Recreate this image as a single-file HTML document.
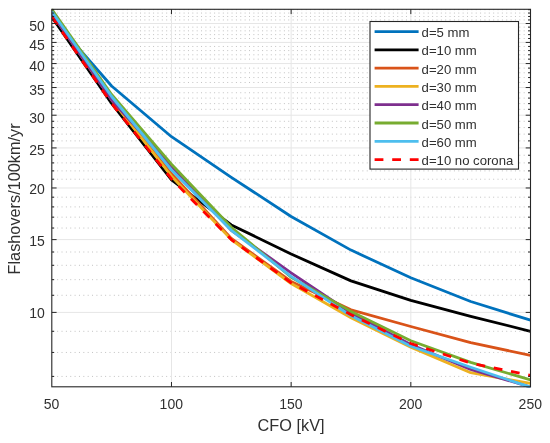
<!DOCTYPE html>
<html><head><meta charset="utf-8"><title>Flashovers vs CFO</title>
<style>html,body{margin:0;padding:0;background:#fff}svg{display:block}</style></head>
<body>
<svg width="550" height="443" viewBox="0 0 550 443" font-family="'Liberation Sans', Arial, sans-serif" fill="#303030">
<rect width="550" height="443" fill="#fff"/>
<defs><clipPath id="ax"><rect x="51.8" y="7.300000000000001" width="480.2" height="380.5"/></clipPath></defs>
<path d="M52.8 376.42H530.5M52.8 352.45H530.5M52.8 331.31H530.5M52.8 295.29H530.5M52.8 279.67H530.5M52.8 265.31H530.5M52.8 252.01H530.5M52.8 228.04H530.5M52.8 217.16H530.5M52.8 206.90H530.5M52.8 197.19H530.5M52.8 179.23H530.5M52.8 170.88H530.5M52.8 162.90H530.5M52.8 155.26H530.5M52.8 140.89H530.5M52.8 134.12H530.5M52.8 127.59H530.5M52.8 121.29H530.5M52.8 109.32H530.5M52.8 103.62H530.5M52.8 98.10H530.5M52.8 92.74H530.5M52.8 82.48H530.5M52.8 77.56H530.5M52.8 72.78H530.5M52.8 68.11H530.5M52.8 59.14H530.5M52.8 54.81H530.5M52.8 50.59H530.5M52.8 46.46H530.5M52.8 38.48H530.5M52.8 34.62H530.5M52.8 30.84H530.5M52.8 27.14H530.5M52.8 19.96H530.5M52.8 16.48H530.5M52.8 13.06H530.5M52.8 9.70H530.5" stroke="#c2c2c2" stroke-width="1" stroke-dasharray="1 3.36" fill="none"/>
<path d="M51.8 312.40H530.5M51.8 239.62H530.5M51.8 187.98H530.5M51.8 147.93H530.5M51.8 115.21H530.5M51.8 87.54H530.5M51.8 63.57H530.5M51.8 42.43H530.5M51.8 23.52H530.5M171.47 9.3V386.8M291.15 9.3V386.8M410.82 9.3V386.8" stroke="#e6e6e6" stroke-width="1" fill="none"/>
<g clip-path="url(#ax)" fill="none" stroke-width="2.8" stroke-linejoin="round">
<polyline points="51.8,17.5 111.6,86.0 171.5,136.7 231.3,177.3 291.1,216.5 351.0,250.1 410.8,277.8 470.7,301.5 530.5,320.2" stroke="#0072BD"/>
<polyline points="51.8,16.9 111.6,103.4 171.5,180.0 231.3,224.9 291.1,254.0 351.0,280.9 410.8,300.4 470.7,316.3 530.5,331.3" stroke="#000000"/>
<polyline points="51.8,13.2 111.6,99.8 171.5,173.6 231.3,238.5 291.1,281.5 351.0,309.8 410.8,326.5 470.7,342.7 530.5,355.3" stroke="#D95319"/>
<polyline points="51.8,13.2 111.6,99.8 171.5,176.2 231.3,239.6 291.1,283.5 351.0,317.8 410.8,347.3 470.7,372.7 530.5,383.4" stroke="#EDB120"/>
<polyline points="51.8,13.5 111.6,100.0 171.5,166.5 231.3,230.3 291.1,272.8 351.0,313.0 410.8,344.5 470.7,369.5 530.5,387.0" stroke="#7E2F8E"/>
<polyline points="51.8,9.3 111.6,94.5 171.5,164.2 231.3,227.2 291.1,277.3 351.0,311.4 410.8,340.7 470.7,362.4 530.5,379.9" stroke="#77AC30"/>
<polyline points="51.8,11.5 111.6,96.5 171.5,170.0 231.3,230.3 291.1,276.3 351.0,315.8 410.8,346.2 470.7,367.3 530.5,387.2" stroke="#4DBEEE"/>
<polyline points="51.8,16.9 111.6,103.4 171.5,178.9 231.3,239.6 291.1,282.8 351.0,314.7 410.8,343.5 470.7,363.1 530.5,375.4" stroke="#FF0000" stroke-dasharray="8.8 8.8" stroke-dashoffset="17.10"/>
</g>
<path d="M51.8 312.40h4.8M530.5 312.40h-4.8M51.8 239.62h4.8M530.5 239.62h-4.8M51.8 187.98h4.8M530.5 187.98h-4.8M51.8 147.93h4.8M530.5 147.93h-4.8M51.8 115.21h4.8M530.5 115.21h-4.8M51.8 87.54h4.8M530.5 87.54h-4.8M51.8 63.57h4.8M530.5 63.57h-4.8M51.8 42.43h4.8M530.5 42.43h-4.8M51.8 23.52h4.8M530.5 23.52h-4.8M51.8 376.42h2.4M530.5 376.42h-2.4M51.8 352.45h2.4M530.5 352.45h-2.4M51.8 331.31h2.4M530.5 331.31h-2.4M51.8 295.29h2.4M530.5 295.29h-2.4M51.8 279.67h2.4M530.5 279.67h-2.4M51.8 265.31h2.4M530.5 265.31h-2.4M51.8 252.01h2.4M530.5 252.01h-2.4M51.8 228.04h2.4M530.5 228.04h-2.4M51.8 217.16h2.4M530.5 217.16h-2.4M51.8 206.90h2.4M530.5 206.90h-2.4M51.8 197.19h2.4M530.5 197.19h-2.4M51.8 179.23h2.4M530.5 179.23h-2.4M51.8 170.88h2.4M530.5 170.88h-2.4M51.8 162.90h2.4M530.5 162.90h-2.4M51.8 155.26h2.4M530.5 155.26h-2.4M51.8 140.89h2.4M530.5 140.89h-2.4M51.8 134.12h2.4M530.5 134.12h-2.4M51.8 127.59h2.4M530.5 127.59h-2.4M51.8 121.29h2.4M530.5 121.29h-2.4M51.8 109.32h2.4M530.5 109.32h-2.4M51.8 103.62h2.4M530.5 103.62h-2.4M51.8 98.10h2.4M530.5 98.10h-2.4M51.8 92.74h2.4M530.5 92.74h-2.4M51.8 82.48h2.4M530.5 82.48h-2.4M51.8 77.56h2.4M530.5 77.56h-2.4M51.8 72.78h2.4M530.5 72.78h-2.4M51.8 68.11h2.4M530.5 68.11h-2.4M51.8 59.14h2.4M530.5 59.14h-2.4M51.8 54.81h2.4M530.5 54.81h-2.4M51.8 50.59h2.4M530.5 50.59h-2.4M51.8 46.46h2.4M530.5 46.46h-2.4M51.8 38.48h2.4M530.5 38.48h-2.4M51.8 34.62h2.4M530.5 34.62h-2.4M51.8 30.84h2.4M530.5 30.84h-2.4M51.8 27.14h2.4M530.5 27.14h-2.4M51.8 19.96h2.4M530.5 19.96h-2.4M51.8 16.48h2.4M530.5 16.48h-2.4M51.8 13.06h2.4M530.5 13.06h-2.4M51.8 9.70h2.4M530.5 9.70h-2.4M171.47 386.8v-4.8M171.47 9.3v4.8M291.15 386.8v-4.8M291.15 9.3v4.8M410.82 386.8v-4.8M410.82 9.3v4.8" stroke="#262626" stroke-width="1" fill="none"/>
<rect x="51.8" y="9.3" width="478.7" height="377.5" fill="none" stroke="#262626" stroke-width="1.1"/>
<g font-size="14" text-anchor="end">
<text x="44.8" y="30.7">50</text>
<text x="44.8" y="50.2">45</text>
<text x="44.8" y="70.7">40</text>
<text x="44.8" y="94.6">35</text>
<text x="44.8" y="122.5">30</text>
<text x="44.8" y="154.6">25</text>
<text x="44.8" y="194.4">20</text>
<text x="44.8" y="246.2">15</text>
<text x="44.8" y="318.2">10</text>
</g>
<g font-size="14" text-anchor="middle">
<text x="51.6" y="408.7">50</text>
<text x="171.3" y="408.7">100</text>
<text x="290.9" y="408.7">150</text>
<text x="410.6" y="408.7">200</text>
<text x="530.3" y="408.7">250</text>
</g>
<text x="291.1" y="430.8" font-size="16.3" text-anchor="middle">CFO [kV]</text>
<text transform="translate(20.2 198.9) rotate(-90)" font-size="16.3" text-anchor="middle">Flashovers/100km/yr</text>
<rect x="370" y="21.5" width="148.5" height="147.6" fill="#fff" stroke="#262626" stroke-width="1.1"/>
<path d="M374.6 31.6H418.6" stroke="#0072BD" stroke-width="2.8" fill="none"/>
<text x="421.6" y="37.1" font-size="13.15">d=5 mm</text>
<path d="M374.6 49.9H418.6" stroke="#000000" stroke-width="2.8" fill="none"/>
<text x="421.6" y="55.4" font-size="13.15">d=10 mm</text>
<path d="M374.6 68.2H418.6" stroke="#D95319" stroke-width="2.8" fill="none"/>
<text x="421.6" y="73.7" font-size="13.15">d=20 mm</text>
<path d="M374.6 86.4H418.6" stroke="#EDB120" stroke-width="2.8" fill="none"/>
<text x="421.6" y="91.9" font-size="13.15">d=30 mm</text>
<path d="M374.6 104.7H418.6" stroke="#7E2F8E" stroke-width="2.8" fill="none"/>
<text x="421.6" y="110.2" font-size="13.15">d=40 mm</text>
<path d="M374.6 123.0H418.6" stroke="#77AC30" stroke-width="2.8" fill="none"/>
<text x="421.6" y="128.5" font-size="13.15">d=50 mm</text>
<path d="M374.6 141.3H418.6" stroke="#4DBEEE" stroke-width="2.8" fill="none"/>
<text x="421.6" y="146.8" font-size="13.15">d=60 mm</text>
<path d="M374.6 159.6H418.6" stroke="#FF0000" stroke-width="2.8" stroke-dasharray="8.8 8.8" fill="none"/>
<text x="421.6" y="165.1" font-size="13.15">d=10 no corona</text>
</svg>
</body></html>
